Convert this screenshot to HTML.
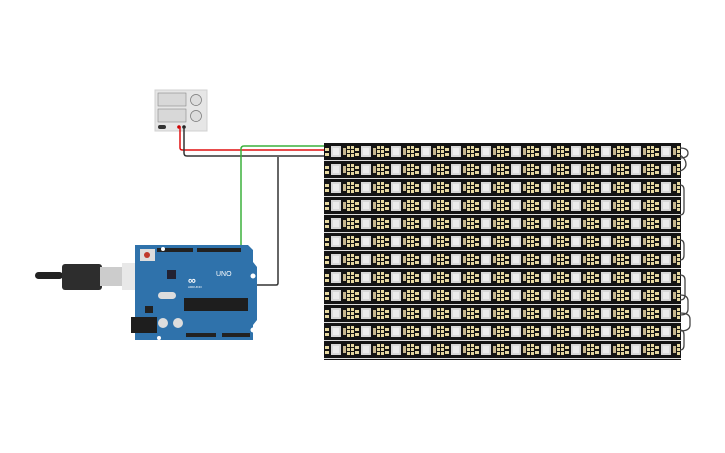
<!DOCTYPE html>
<html><head><meta charset="utf-8"><style>html,body{margin:0;padding:0;background:#fff;width:725px;height:453px;overflow:hidden}</style></head>
<body>
<svg width="725" height="453" viewBox="0 0 725 453" xmlns="http://www.w3.org/2000/svg" font-family="Liberation Sans, sans-serif">
<defs>
<pattern id="strip" x="324" y="143" width="30" height="18" patternUnits="userSpaceOnUse">
<rect width="30" height="18" fill="#141414"/>
<rect x="0" y="17" width="30" height="1" fill="#ddd"/>
<rect x="1" y="5" width="4" height="3" fill="#e6d8a0"/><rect x="1" y="10" width="4" height="3" fill="#e6d8a0"/>
<rect x="7" y="3" width="10" height="11" fill="#d8d8d8"/><rect x="9" y="5" width="6" height="7" fill="#ececec"/>
<rect x="19" y="5" width="3" height="7" fill="#c8b890"/>
<rect x="23" y="3" width="3" height="3" fill="#e6d8a0"/><rect x="27" y="3" width="3" height="3" fill="#e6d8a0"/>
<rect x="23" y="7" width="3" height="3" fill="#e6d8a0"/><rect x="27" y="7" width="3" height="3" fill="#e6d8a0"/>
<rect x="23" y="11" width="3" height="3" fill="#e6d8a0"/><rect x="27" y="11" width="3" height="3" fill="#e6d8a0"/>
</pattern>
</defs>
<rect x="324" y="143" width="357" height="217" fill="url(#strip)"/>
<g fill="none" stroke="#444" stroke-width="1.3">
<path d="M680 148 q8 0 8 5 q0 5 -8 5"/><path d="M680 155 q6 4 6 9 q0 5 -6 7"/>
<path d="M680 185 q4 0 4 5 v20 q0 5 -4 5"/><path d="M680 240 q4 0 4 5 v10 q0 5 -4 5"/>
<path d="M680 275 q5 0 5 5 v15 q0 5 -5 5"/><path d="M680 295 q8 0 8 6 v8 q0 6 -8 6"/>
<path d="M680 313 q10 0 10 6 v6 q0 6 -10 6"/><path d="M680 330 q4 0 4 5 v10 q0 5 -4 5"/>
</g>
<rect x="155" y="90" width="52" height="41" fill="#e6e6e6" stroke="#d0d0d0"/>
<rect x="158" y="93" width="28" height="13" fill="#d8d8d8" stroke="#888" stroke-width="0.6"/>
<rect x="158" y="109" width="28" height="13" fill="#d8d8d8" stroke="#888" stroke-width="0.6"/>
<circle cx="196" cy="100" r="5.5" fill="#ddd" stroke="#777" stroke-width="0.7"/>
<circle cx="196" cy="116" r="5.5" fill="#ddd" stroke="#777" stroke-width="0.7"/>
<rect x="158" y="125" width="8" height="4" rx="2" fill="#333"/>
<circle cx="179" cy="127" r="1.8" fill="#c00"/><circle cx="184" cy="127" r="1.8" fill="#222"/>
<g fill="none" stroke-width="1.5">
<path d="M180 127 V148 q0 2 3 2 H324" stroke="#e01010"/>
<path d="M184 127 V153 q0 3 3 3 H324" stroke="#333"/>
<path d="M241 248 V149 q0 -3 3 -3 H324" stroke="#3cb03c"/>
<path d="M278 157 V283 q0 2 -2 2 H212 q-2 0 -2 2 V335" stroke="#333"/>
</g>
<rect x="35" y="272" width="28" height="7" rx="3.5" fill="#222"/>
<rect x="62" y="264" width="40" height="26" rx="3" fill="#2d2d2d"/>
<rect x="100" y="267" width="23" height="19" fill="#ccc"/>
<rect x="122" y="263" width="32" height="27" fill="#e8e8e8"/>
<path d="M135 245 H248 L253 250 V262 L257 267 V320 L253 325 V340 H135 Z" fill="#2f72ab"/>
<rect x="140" y="249" width="15" height="12" fill="#ddd"/><circle cx="147" cy="255" r="3" fill="#c0392b"/>
<rect x="157" y="248" width="36" height="4" fill="#222"/><rect x="197" y="248" width="44" height="4" fill="#222"/>
<text x="188" y="284" font-size="11" fill="#fff" font-weight="bold">∞</text>
<text x="216" y="276" font-size="7" fill="#fff">UNO</text>
<text x="188" y="288" font-size="3" fill="#fff">ARDUINO</text>
<rect x="167" y="270" width="9" height="9" fill="#223"/>
<rect x="158" y="292" width="18" height="7" rx="3.5" fill="#ddd"/>
<rect x="184" y="298" width="64" height="13" fill="#1e1e1e"/>
<rect x="145" y="306" width="8" height="7" fill="#222"/>
<circle cx="163" cy="323" r="5" fill="#ddd"/><circle cx="178" cy="323" r="5" fill="#ddd"/>
<rect x="131" y="317" width="26" height="16" fill="#1e1e1e"/>
<rect x="186" y="333" width="30" height="4" fill="#222"/><rect x="222" y="333" width="28" height="4" fill="#222"/>
<circle cx="163" cy="249" r="2" fill="#fff"/><circle cx="253" cy="276" r="2.5" fill="#fff"/><circle cx="253" cy="330" r="2.5" fill="#fff"/><circle cx="159" cy="338" r="2" fill="#fff"/>
</svg>
</body></html>
